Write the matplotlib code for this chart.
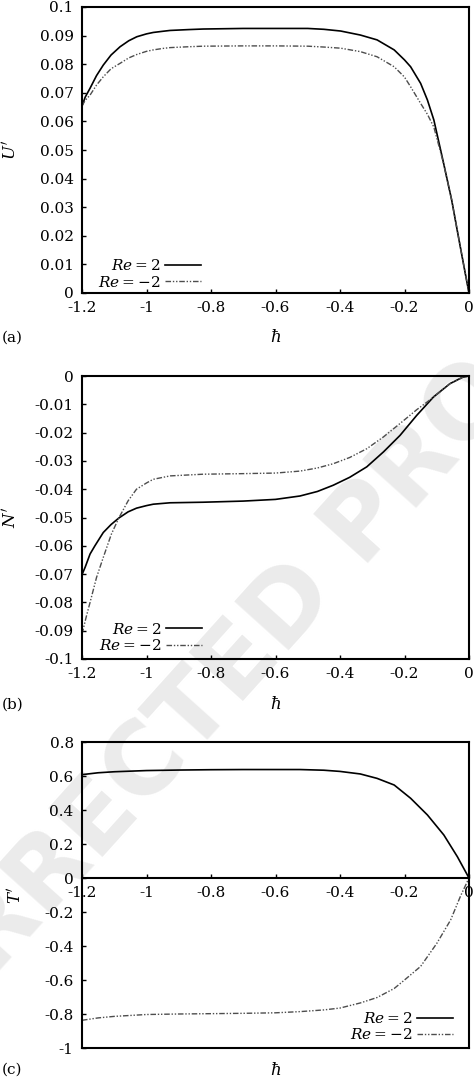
import numpy as np
import matplotlib
matplotlib.use("Agg")
import matplotlib.pyplot as plt

plt.rcParams['font.family'] = ['DejaVu Serif']
plt.rcParams['mathtext.fontset'] = 'dejavuserif'
plt.rcParams['font.size'] = 11

# --- values ---
# (a) U'
u_x_re2 = [-1.2, -1.19, -1.175, -1.155, -1.134, -1.11, -1.082, -1.055, -1.03, -1.0, -0.979, -0.95, -0.927,
           -0.87, -0.824, -0.7, -0.6, -0.5, -0.45, -0.398, -0.337, -0.285, -0.232, -0.2, -0.181, -0.15,
           -0.129, -0.109, -0.08, -0.0537, -0.035, -0.0155, 0.0]
u_y_re2 = [0.0654, 0.0685, 0.0716, 0.0760, 0.0797, 0.0832, 0.0861, 0.0882, 0.0896, 0.0906, 0.0911, 0.0915, 0.0918,
           0.0921, 0.0923, 0.0925, 0.0925, 0.0925, 0.0922, 0.0916, 0.0902, 0.0885, 0.0850, 0.0815, 0.0791, 0.0733,
           0.0675, 0.0605, 0.0460, 0.0325, 0.0210, 0.0092, 0.0]
u_x_rem2 = [-1.2, -1.19, -1.175, -1.155, -1.134, -1.11, -1.082, -1.055, -1.03, -1.0, -0.979, -0.95, -0.927,
            -0.87, -0.824, -0.7, -0.6, -0.5, -0.45, -0.398, -0.337, -0.285, -0.232, -0.2, -0.181, -0.15,
            -0.129, -0.109, -0.08, -0.0537, -0.035, -0.0155, 0.0]
u_y_rem2 = [0.0654, 0.0674, 0.0692, 0.0727, 0.0756, 0.0784, 0.0803, 0.0822, 0.0834, 0.0845, 0.0850, 0.0855, 0.0858,
            0.0861, 0.0863, 0.0864, 0.0864, 0.0863, 0.0860, 0.0856, 0.0844, 0.0826, 0.0791, 0.0755, 0.0721, 0.0663,
            0.0625, 0.0580, 0.0458, 0.0325, 0.0210, 0.0092, 0.0]

# (b) N'
n_x_re2 = [-1.2, -1.19, -1.175, -1.16, -1.134, -1.11, -1.086, -1.057, -1.031, -1.0, -0.979, -0.927, -0.824,
           -0.7, -0.6, -0.524, -0.47, -0.421, -0.37, -0.317, -0.265, -0.214, -0.162, -0.11, -0.059,
           -0.019, 0.0]
n_y_re2 = [-0.0702, -0.0675, -0.0629, -0.0600, -0.0553, -0.0525, -0.0502, -0.0480, -0.0467, -0.0458, -0.0453, -0.0448,
           -0.0446, -0.0442, -0.0436, -0.0424, -0.0408, -0.0386, -0.0358, -0.0321, -0.0268, -0.0210, -0.0139, -0.0074,
           -0.0027, -0.0004, 0.0]
n_x_rem2 = [-1.2, -1.186, -1.175, -1.155, -1.134, -1.109, -1.086, -1.057, -1.031, -1.0, -0.979, -0.927, -0.824,
            -0.7, -0.6, -0.524, -0.47, -0.421, -0.37, -0.317, -0.265, -0.214, -0.162, -0.13, -0.11, -0.059,
            -0.019, 0.0]
n_y_rem2 = [-0.0912, -0.0847, -0.0800, -0.0712, -0.0641, -0.0559, -0.0502, -0.0441, -0.0400, -0.0378, -0.0365, -0.0353,
            -0.0347, -0.0345, -0.0343, -0.0336, -0.0325, -0.0310, -0.0288, -0.0257, -0.0215, -0.0168, -0.0119, -0.0092,
            -0.0074, -0.0027, -0.0004, 0.0]

# (c) T'
t_x_re2 = [-1.2, -1.15, -1.1, -1.0, -0.9, -0.8, -0.7, -0.6, -0.524, -0.45, -0.4, -0.337, -0.285, -0.232,
           -0.181, -0.129, -0.078, -0.036, 0.0]
t_y_re2 = [0.608, 0.619, 0.625, 0.632, 0.635, 0.637, 0.638, 0.638, 0.638, 0.634, 0.627, 0.612, 0.586, 0.547,
           0.469, 0.371, 0.253, 0.125, 0.0]
t_x_rem2 = [-1.2, -1.15, -1.1, -1.0, -0.9, -0.8, -0.7, -0.6, -0.524, -0.45, -0.4, -0.337, -0.285, -0.232,
            -0.2, -0.15, -0.1, -0.057, -0.026, 0.0]
t_y_rem2 = [-0.837, -0.823, -0.814, -0.803, -0.800, -0.798, -0.796, -0.793, -0.786, -0.776, -0.765, -0.735,
            -0.703, -0.650, -0.600, -0.520, -0.385, -0.247, -0.105, 0.0]

x_ticks = [-1.2, -1.0, -0.8, -0.6, -0.4, -0.2, 0.0]
x_labels = ['-1.2', '-1', '-0.8', '-0.6', '-0.4', '-0.2', '0']
lab_re2 = r'$Re = 2$'
lab_rem2 = r'$Re = {-2}$'

W, H = 474, 1082
fig = plt.figure(figsize=(W / 100, H / 100), dpi=100)

def px_axes(left, right, top, bottom):
    return fig.add_axes([left / W, 1 - bottom / H, (right - left) / W, (bottom - top) / H])

ax1 = px_axes(82, 469, 7, 293)
ax2 = px_axes(82, 469, 376, 659)
ax3 = px_axes(82, 469, 742, 1048)

dash = dict(color='0.3', lw=1.0, dashes=[4, 1.3, 1, 1.3, 1, 1.3])
solid = dict(color='black', lw=1.2)

def style(ax, ylim, yticks, ylabels, ylab, ylab_x):
    ax.set_facecolor('none')
    ax.set_xlim(-1.2, 0)
    ax.set_ylim(*ylim)
    ax.set_xticks(x_ticks)
    ax.set_xticklabels(x_labels)
    ax.set_yticks(yticks)
    ax.set_yticklabels(ylabels)
    ax.tick_params(direction='in', length=3, width=1, pad=6, top=False, right=False)
    for s in ax.spines.values():
        s.set_linewidth(1.5)
    ax.set_ylabel(ylab, fontsize=12)
    ax.yaxis.set_label_coords(ylab_x, 0.5)

def add_legend(ax, loc, anchor):
    ax.legend(loc=loc, bbox_to_anchor=anchor, markerfirst=False, frameon=False, handlelength=2.35,
              handletextpad=0.3, labelspacing=0.1, borderaxespad=0, borderpad=0)

# (a)
ax1.plot(u_x_re2, u_y_re2, label=lab_re2, **solid)
ax1.plot(u_x_rem2, u_y_rem2, label=lab_rem2, **dash)
uy = [0, 0.01, 0.02, 0.03, 0.04, 0.05, 0.06, 0.07, 0.08, 0.09, 0.1]
style(ax1, (0, 0.1), uy, ['0'] + ['%.2f' % v for v in uy[1:-1]] + ['0.1'], r"$U'$", -0.16)
add_legend(ax1, 'lower left', (0.041, 0.012))

# (b)
ax2.plot(n_x_re2, n_y_re2, label=lab_re2, **solid)
ax2.plot(n_x_rem2, n_y_rem2, label=lab_rem2, **dash)
ny = [0, -0.01, -0.02, -0.03, -0.04, -0.05, -0.06, -0.07, -0.08, -0.09, -0.1]
style(ax2, (-0.1, 0), ny, ['0'] + ['%.2f' % v for v in ny[1:-1]] + ['-0.1'], r"$N'$", -0.16)
add_legend(ax2, 'lower left', (0.044, 0.02))

# (c)
ax3.plot(t_x_re2, t_y_re2, label=lab_re2, **solid)
ax3.plot(t_x_rem2, t_y_rem2, label=lab_rem2, **dash)
ty = [0.8, 0.6, 0.4, 0.2, 0, -0.2, -0.4, -0.6, -0.8, -1.0]
style(ax3, (-1, 0.8), ty, ['0.8', '0.6', '0.4', '0.2', '0', '-0.2', '-0.4', '-0.6', '-0.8', '-1'], r"$T'$", -0.145)
ax3.spines['bottom'].set_position(('data', 0))
ax3.axhline(-1, color='black', lw=1.5, clip_on=False)
add_legend(ax3, 'lower right', (0.9587, 0.018))

# x labels and panel tags
for ax, yoff, tag in [(ax1, -0.157, '(a)'), (ax2, -0.1625, '(b)'), (ax3, -0.072, '(c)')]:
    ax.text(0.5, yoff, r'$\hbar$', transform=ax.transAxes, ha='center', va='center', fontsize=12)
    pos = ax.get_position()
    fig.text(0.004, pos.y0 + yoff * pos.height, tag, ha='left', va='center', fontsize=11)

# watermark
fig.text(0.496, 0.381, 'CORRECTED PROOF', rotation=48, ha='center', va='center',
         fontsize=72, fontweight='bold', family='DejaVu Sans', color='#ebebeb', zorder=-1)

fig.savefig('out.png', dpi=100)
